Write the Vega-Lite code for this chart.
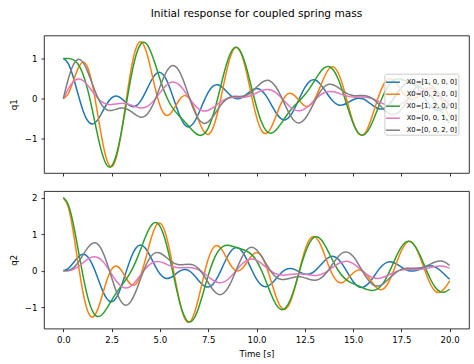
{
  "$schema": "https://vega.github.io/schema/vega-lite/v6.json",
  "background": "white",
  "padding": {"left": 8, "top": 8.5, "right": 7, "bottom": 5},
  "title": {"text": "Initial response for coupled spring mass", "fontSize": 10.6, "fontWeight": "normal", "font": "DejaVu Sans", "color": "#000", "anchor": "middle", "frame": "group", "offset": 15.3},
  "config": {
    "font": "DejaVu Sans",
    "view": {"stroke": "#000", "strokeWidth": 0.8},
    "axis": {"grid": false, "domain": false, "tickColor": "#000", "tickSize": 3, "tickWidth": 0.8, "labelColor": "#000", "labelFontSize": 8.6, "labelFont": "DejaVu Sans", "titleFont": "DejaVu Sans", "titleFontSize": 8.6, "titleFontWeight": "normal", "titleColor": "#000", "labelPadding": 4},
    "concat": {"spacing": 12.6},
    "line": {"strokeWidth": 1.5, "interpolate": "natural"}
  },
  "datasets": {
    "resp": [
{"t":0,"s":"X0=[1, 0, 0, 0]","q1":1,"q2":0},
{"t":0.25,"s":"X0=[1, 0, 0, 0]","q1":0.879,"q2":0.059},
{"t":0.5,"s":"X0=[1, 0, 0, 0]","q1":0.557,"q2":0.207},
{"t":0.75,"s":"X0=[1, 0, 0, 0]","q1":0.133,"q2":0.367},
{"t":1,"s":"X0=[1, 0, 0, 0]","q1":-0.269,"q2":0.451},
{"t":1.25,"s":"X0=[1, 0, 0, 0]","q1":-0.543,"q2":0.392},
{"t":1.5,"s":"X0=[1, 0, 0, 0]","q1":-0.633,"q2":0.176},
{"t":1.75,"s":"X0=[1, 0, 0, 0]","q1":-0.548,"q2":-0.151},
{"t":2,"s":"X0=[1, 0, 0, 0]","q1":-0.351,"q2":-0.5},
{"t":2.25,"s":"X0=[1, 0, 0, 0]","q1":-0.134,"q2":-0.761},
{"t":2.5,"s":"X0=[1, 0, 0, 0]","q1":0.02,"q2":-0.848},
{"t":2.75,"s":"X0=[1, 0, 0, 0]","q1":0.065,"q2":-0.727},
{"t":3,"s":"X0=[1, 0, 0, 0]","q1":0.007,"q2":-0.426},
{"t":3.25,"s":"X0=[1, 0, 0, 0]","q1":-0.101,"q2":-0.029},
{"t":3.5,"s":"X0=[1, 0, 0, 0]","q1":-0.187,"q2":0.353},
{"t":3.75,"s":"X0=[1, 0, 0, 0]","q1":-0.183,"q2":0.618},
{"t":4,"s":"X0=[1, 0, 0, 0]","q1":-0.062,"q2":0.707},
{"t":4.25,"s":"X0=[1, 0, 0, 0]","q1":0.154,"q2":0.616},
{"t":4.5,"s":"X0=[1, 0, 0, 0]","q1":0.401,"q2":0.397},
{"t":4.75,"s":"X0=[1, 0, 0, 0]","q1":0.592,"q2":0.136},
{"t":5,"s":"X0=[1, 0, 0, 0]","q1":0.653,"q2":-0.081},
{"t":5.25,"s":"X0=[1, 0, 0, 0]","q1":0.545,"q2":-0.197},
{"t":5.5,"s":"X0=[1, 0, 0, 0]","q1":0.285,"q2":-0.197},
{"t":5.75,"s":"X0=[1, 0, 0, 0]","q1":-0.06,"q2":-0.117},
{"t":6,"s":"X0=[1, 0, 0, 0]","q1":-0.396,"q2":-0.017},
{"t":6.25,"s":"X0=[1, 0, 0, 0]","q1":-0.63,"q2":0.037},
{"t":6.5,"s":"X0=[1, 0, 0, 0]","q1":-0.703,"q2":0.007},
{"t":6.75,"s":"X0=[1, 0, 0, 0]","q1":-0.604,"q2":-0.108},
{"t":7,"s":"X0=[1, 0, 0, 0]","q1":-0.375,"q2":-0.265},
{"t":7.25,"s":"X0=[1, 0, 0, 0]","q1":-0.093,"q2":-0.399},
{"t":7.5,"s":"X0=[1, 0, 0, 0]","q1":0.158,"q2":-0.445},
{"t":7.75,"s":"X0=[1, 0, 0, 0]","q1":0.311,"q2":-0.364},
{"t":8,"s":"X0=[1, 0, 0, 0]","q1":0.343,"q2":-0.16},
{"t":8.25,"s":"X0=[1, 0, 0, 0]","q1":0.272,"q2":0.117},
{"t":8.5,"s":"X0=[1, 0, 0, 0]","q1":0.152,"q2":0.392},
{"t":8.75,"s":"X0=[1, 0, 0, 0]","q1":0.045,"q2":0.584},
{"t":9,"s":"X0=[1, 0, 0, 0]","q1":-0.002,"q2":0.636},
{"t":9.25,"s":"X0=[1, 0, 0, 0]","q1":0.028,"q2":0.533},
{"t":9.5,"s":"X0=[1, 0, 0, 0]","q1":0.114,"q2":0.308},
{"t":9.75,"s":"X0=[1, 0, 0, 0]","q1":0.207,"q2":0.028},
{"t":10,"s":"X0=[1, 0, 0, 0]","q1":0.251,"q2":-0.227},
{"t":10.25,"s":"X0=[1, 0, 0, 0]","q1":0.207,"q2":-0.392},
{"t":10.5,"s":"X0=[1, 0, 0, 0]","q1":0.067,"q2":-0.434},
{"t":10.75,"s":"X0=[1, 0, 0, 0]","q1":-0.136,"q2":-0.362},
{"t":11,"s":"X0=[1, 0, 0, 0]","q1":-0.345,"q2":-0.222},
{"t":11.25,"s":"X0=[1, 0, 0, 0]","q1":-0.491,"q2":-0.072},
{"t":11.5,"s":"X0=[1, 0, 0, 0]","q1":-0.525,"q2":0.033},
{"t":11.75,"s":"X0=[1, 0, 0, 0]","q1":-0.427,"q2":0.066},
{"t":12,"s":"X0=[1, 0, 0, 0]","q1":-0.221,"q2":0.031},
{"t":12.25,"s":"X0=[1, 0, 0, 0]","q1":0.036,"q2":-0.037},
{"t":12.5,"s":"X0=[1, 0, 0, 0]","q1":0.274,"q2":-0.089},
{"t":12.75,"s":"X0=[1, 0, 0, 0]","q1":0.43,"q2":-0.087},
{"t":13,"s":"X0=[1, 0, 0, 0]","q1":0.468,"q2":-0.013},
{"t":13.25,"s":"X0=[1, 0, 0, 0]","q1":0.391,"q2":0.118},
{"t":13.5,"s":"X0=[1, 0, 0, 0]","q1":0.236,"q2":0.264},
{"t":13.75,"s":"X0=[1, 0, 0, 0]","q1":0.059,"q2":0.37},
{"t":14,"s":"X0=[1, 0, 0, 0]","q1":-0.084,"q2":0.392},
{"t":14.25,"s":"X0=[1, 0, 0, 0]","q1":-0.157,"q2":0.309},
{"t":14.5,"s":"X0=[1, 0, 0, 0]","q1":-0.153,"q2":0.135},
{"t":14.75,"s":"X0=[1, 0, 0, 0]","q1":-0.097,"q2":-0.085},
{"t":15,"s":"X0=[1, 0, 0, 0]","q1":-0.029,"q2":-0.291},
{"t":15.25,"s":"X0=[1, 0, 0, 0]","q1":0.01,"q2":-0.425},
{"t":15.5,"s":"X0=[1, 0, 0, 0]","q1":-0.005,"q2":-0.453},
{"t":15.75,"s":"X0=[1, 0, 0, 0]","q1":-0.072,"q2":-0.371},
{"t":16,"s":"X0=[1, 0, 0, 0]","q1":-0.163,"q2":-0.211},
{"t":16.25,"s":"X0=[1, 0, 0, 0]","q1":-0.238,"q2":-0.023},
{"t":16.5,"s":"X0=[1, 0, 0, 0]","q1":-0.257,"q2":0.137},
{"t":16.75,"s":"X0=[1, 0, 0, 0]","q1":-0.197,"q2":0.23},
{"t":17,"s":"X0=[1, 0, 0, 0]","q1":-0.064,"q2":0.242},
{"t":17.25,"s":"X0=[1, 0, 0, 0]","q1":0.11,"q2":0.188},
{"t":17.5,"s":"X0=[1, 0, 0, 0]","q1":0.275,"q2":0.103},
{"t":17.75,"s":"X0=[1, 0, 0, 0]","q1":0.383,"q2":0.028},
{"t":18,"s":"X0=[1, 0, 0, 0]","q1":0.399,"q2":-0.007},
{"t":18.25,"s":"X0=[1, 0, 0, 0]","q1":0.318,"q2":0.008},
{"t":18.5,"s":"X0=[1, 0, 0, 0]","q1":0.163,"q2":0.058},
{"t":18.75,"s":"X0=[1, 0, 0, 0]","q1":-0.02,"q2":0.113},
{"t":19,"s":"X0=[1, 0, 0, 0]","q1":-0.18,"q2":0.136},
{"t":19.25,"s":"X0=[1, 0, 0, 0]","q1":-0.277,"q2":0.105},
{"t":19.5,"s":"X0=[1, 0, 0, 0]","q1":-0.293,"q2":0.016},
{"t":19.75,"s":"X0=[1, 0, 0, 0]","q1":-0.235,"q2":-0.108},
{"t":20,"s":"X0=[1, 0, 0, 0]","q1":-0.136,"q2":-0.232},
{"t":0,"s":"X0=[0, 2, 0, 0]","q1":0,"q2":2},
{"t":0.25,"s":"X0=[0, 2, 0, 0]","q1":0.119,"q2":1.758},
{"t":0.5,"s":"X0=[0, 2, 0, 0]","q1":0.414,"q2":1.114},
{"t":0.75,"s":"X0=[0, 2, 0, 0]","q1":0.735,"q2":0.266},
{"t":1,"s":"X0=[0, 2, 0, 0]","q1":0.902,"q2":-0.537},
{"t":1.25,"s":"X0=[0, 2, 0, 0]","q1":0.785,"q2":-1.085},
{"t":1.5,"s":"X0=[0, 2, 0, 0]","q1":0.353,"q2":-1.265},
{"t":1.75,"s":"X0=[0, 2, 0, 0]","q1":-0.303,"q2":-1.095},
{"t":2,"s":"X0=[0, 2, 0, 0]","q1":-0.999,"q2":-0.702},
{"t":2.25,"s":"X0=[0, 2, 0, 0]","q1":-1.521,"q2":-0.267},
{"t":2.5,"s":"X0=[0, 2, 0, 0]","q1":-1.696,"q2":0.041},
{"t":2.75,"s":"X0=[0, 2, 0, 0]","q1":-1.453,"q2":0.13},
{"t":3,"s":"X0=[0, 2, 0, 0]","q1":-0.852,"q2":0.015},
{"t":3.25,"s":"X0=[0, 2, 0, 0]","q1":-0.059,"q2":-0.203},
{"t":3.5,"s":"X0=[0, 2, 0, 0]","q1":0.705,"q2":-0.373},
{"t":3.75,"s":"X0=[0, 2, 0, 0]","q1":1.236,"q2":-0.366},
{"t":4,"s":"X0=[0, 2, 0, 0]","q1":1.414,"q2":-0.124},
{"t":4.25,"s":"X0=[0, 2, 0, 0]","q1":1.232,"q2":0.308},
{"t":4.5,"s":"X0=[0, 2, 0, 0]","q1":0.795,"q2":0.802},
{"t":4.75,"s":"X0=[0, 2, 0, 0]","q1":0.272,"q2":1.185},
{"t":5,"s":"X0=[0, 2, 0, 0]","q1":-0.163,"q2":1.305},
{"t":5.25,"s":"X0=[0, 2, 0, 0]","q1":-0.393,"q2":1.089},
{"t":5.5,"s":"X0=[0, 2, 0, 0]","q1":-0.395,"q2":0.571},
{"t":5.75,"s":"X0=[0, 2, 0, 0]","q1":-0.233,"q2":-0.12},
{"t":6,"s":"X0=[0, 2, 0, 0]","q1":-0.034,"q2":-0.791},
{"t":6.25,"s":"X0=[0, 2, 0, 0]","q1":0.075,"q2":-1.26},
{"t":6.5,"s":"X0=[0, 2, 0, 0]","q1":0.014,"q2":-1.406},
{"t":6.75,"s":"X0=[0, 2, 0, 0]","q1":-0.216,"q2":-1.208},
{"t":7,"s":"X0=[0, 2, 0, 0]","q1":-0.53,"q2":-0.75},
{"t":7.25,"s":"X0=[0, 2, 0, 0]","q1":-0.798,"q2":-0.185},
{"t":7.5,"s":"X0=[0, 2, 0, 0]","q1":-0.89,"q2":0.315},
{"t":7.75,"s":"X0=[0, 2, 0, 0]","q1":-0.728,"q2":0.622},
{"t":8,"s":"X0=[0, 2, 0, 0]","q1":-0.321,"q2":0.686},
{"t":8.25,"s":"X0=[0, 2, 0, 0]","q1":0.234,"q2":0.545},
{"t":8.5,"s":"X0=[0, 2, 0, 0]","q1":0.784,"q2":0.304},
{"t":8.75,"s":"X0=[0, 2, 0, 0]","q1":1.167,"q2":0.089},
{"t":9,"s":"X0=[0, 2, 0, 0]","q1":1.271,"q2":-0.004},
{"t":9.25,"s":"X0=[0, 2, 0, 0]","q1":1.066,"q2":0.057},
{"t":9.5,"s":"X0=[0, 2, 0, 0]","q1":0.616,"q2":0.228},
{"t":9.75,"s":"X0=[0, 2, 0, 0]","q1":0.056,"q2":0.414},
{"t":10,"s":"X0=[0, 2, 0, 0]","q1":-0.454,"q2":0.502},
{"t":10.25,"s":"X0=[0, 2, 0, 0]","q1":-0.784,"q2":0.413},
{"t":10.5,"s":"X0=[0, 2, 0, 0]","q1":-0.867,"q2":0.135},
{"t":10.75,"s":"X0=[0, 2, 0, 0]","q1":-0.725,"q2":-0.272},
{"t":11,"s":"X0=[0, 2, 0, 0]","q1":-0.443,"q2":-0.689},
{"t":11.25,"s":"X0=[0, 2, 0, 0]","q1":-0.144,"q2":-0.983},
{"t":11.5,"s":"X0=[0, 2, 0, 0]","q1":0.067,"q2":-1.049},
{"t":11.75,"s":"X0=[0, 2, 0, 0]","q1":0.131,"q2":-0.854},
{"t":12,"s":"X0=[0, 2, 0, 0]","q1":0.062,"q2":-0.443},
{"t":12.25,"s":"X0=[0, 2, 0, 0]","q1":-0.073,"q2":0.072},
{"t":12.5,"s":"X0=[0, 2, 0, 0]","q1":-0.179,"q2":0.549},
{"t":12.75,"s":"X0=[0, 2, 0, 0]","q1":-0.174,"q2":0.86},
{"t":13,"s":"X0=[0, 2, 0, 0]","q1":-0.025,"q2":0.936},
{"t":13.25,"s":"X0=[0, 2, 0, 0]","q1":0.236,"q2":0.783},
{"t":13.5,"s":"X0=[0, 2, 0, 0]","q1":0.527,"q2":0.472},
{"t":13.75,"s":"X0=[0, 2, 0, 0]","q1":0.74,"q2":0.118},
{"t":14,"s":"X0=[0, 2, 0, 0]","q1":0.784,"q2":-0.167},
{"t":14.25,"s":"X0=[0, 2, 0, 0]","q1":0.618,"q2":-0.313},
{"t":14.5,"s":"X0=[0, 2, 0, 0]","q1":0.271,"q2":-0.307},
{"t":14.75,"s":"X0=[0, 2, 0, 0]","q1":-0.17,"q2":-0.195},
{"t":15,"s":"X0=[0, 2, 0, 0]","q1":-0.581,"q2":-0.059},
{"t":15.25,"s":"X0=[0, 2, 0, 0]","q1":-0.85,"q2":0.019},
{"t":15.5,"s":"X0=[0, 2, 0, 0]","q1":-0.905,"q2":-0.01},
{"t":15.75,"s":"X0=[0, 2, 0, 0]","q1":-0.743,"q2":-0.143},
{"t":16,"s":"X0=[0, 2, 0, 0]","q1":-0.422,"q2":-0.327},
{"t":16.25,"s":"X0=[0, 2, 0, 0]","q1":-0.047,"q2":-0.477},
{"t":16.5,"s":"X0=[0, 2, 0, 0]","q1":0.274,"q2":-0.514},
{"t":16.75,"s":"X0=[0, 2, 0, 0]","q1":0.46,"q2":-0.395},
{"t":17,"s":"X0=[0, 2, 0, 0]","q1":0.484,"q2":-0.128},
{"t":17.25,"s":"X0=[0, 2, 0, 0]","q1":0.376,"q2":0.219},
{"t":17.5,"s":"X0=[0, 2, 0, 0]","q1":0.206,"q2":0.55},
{"t":17.75,"s":"X0=[0, 2, 0, 0]","q1":0.056,"q2":0.765},
{"t":18,"s":"X0=[0, 2, 0, 0]","q1":-0.014,"q2":0.797},
{"t":18.25,"s":"X0=[0, 2, 0, 0]","q1":0.016,"q2":0.635},
{"t":18.5,"s":"X0=[0, 2, 0, 0]","q1":0.117,"q2":0.326},
{"t":18.75,"s":"X0=[0, 2, 0, 0]","q1":0.225,"q2":-0.04},
{"t":19,"s":"X0=[0, 2, 0, 0]","q1":0.272,"q2":-0.36},
{"t":19.25,"s":"X0=[0, 2, 0, 0]","q1":0.21,"q2":-0.554},
{"t":19.5,"s":"X0=[0, 2, 0, 0]","q1":0.033,"q2":-0.585},
{"t":19.75,"s":"X0=[0, 2, 0, 0]","q1":-0.217,"q2":-0.471},
{"t":20,"s":"X0=[0, 2, 0, 0]","q1":-0.464,"q2":-0.272},
{"t":0,"s":"X0=[1, 2, 0, 0]","q1":1,"q2":2},
{"t":0.25,"s":"X0=[1, 2, 0, 0]","q1":0.998,"q2":1.818},
{"t":0.5,"s":"X0=[1, 2, 0, 0]","q1":0.971,"q2":1.321},
{"t":0.75,"s":"X0=[1, 2, 0, 0]","q1":0.868,"q2":0.634},
{"t":1,"s":"X0=[1, 2, 0, 0]","q1":0.633,"q2":-0.086},
{"t":1.25,"s":"X0=[1, 2, 0, 0]","q1":0.242,"q2":-0.693},
{"t":1.5,"s":"X0=[1, 2, 0, 0]","q1":-0.28,"q2":-1.089},
{"t":1.75,"s":"X0=[1, 2, 0, 0]","q1":-0.85,"q2":-1.247},
{"t":2,"s":"X0=[1, 2, 0, 0]","q1":-1.35,"q2":-1.201},
{"t":2.25,"s":"X0=[1, 2, 0, 0]","q1":-1.655,"q2":-1.028},
{"t":2.5,"s":"X0=[1, 2, 0, 0]","q1":-1.675,"q2":-0.807},
{"t":2.75,"s":"X0=[1, 2, 0, 0]","q1":-1.388,"q2":-0.596},
{"t":3,"s":"X0=[1, 2, 0, 0]","q1":-0.845,"q2":-0.412},
{"t":3.25,"s":"X0=[1, 2, 0, 0]","q1":-0.16,"q2":-0.232},
{"t":3.5,"s":"X0=[1, 2, 0, 0]","q1":0.519,"q2":-0.021},
{"t":3.75,"s":"X0=[1, 2, 0, 0]","q1":1.053,"q2":0.252},
{"t":4,"s":"X0=[1, 2, 0, 0]","q1":1.351,"q2":0.582},
{"t":4.25,"s":"X0=[1, 2, 0, 0]","q1":1.386,"q2":0.924},
{"t":4.5,"s":"X0=[1, 2, 0, 0]","q1":1.196,"q2":1.199},
{"t":4.75,"s":"X0=[1, 2, 0, 0]","q1":0.865,"q2":1.321},
{"t":5,"s":"X0=[1, 2, 0, 0]","q1":0.49,"q2":1.224},
{"t":5.25,"s":"X0=[1, 2, 0, 0]","q1":0.152,"q2":0.893},
{"t":5.5,"s":"X0=[1, 2, 0, 0]","q1":-0.109,"q2":0.373},
{"t":5.75,"s":"X0=[1, 2, 0, 0]","q1":-0.293,"q2":-0.236},
{"t":6,"s":"X0=[1, 2, 0, 0]","q1":-0.43,"q2":-0.809},
{"t":6.25,"s":"X0=[1, 2, 0, 0]","q1":-0.556,"q2":-1.223},
{"t":6.5,"s":"X0=[1, 2, 0, 0]","q1":-0.689,"q2":-1.399},
{"t":6.75,"s":"X0=[1, 2, 0, 0]","q1":-0.82,"q2":-1.316},
{"t":7,"s":"X0=[1, 2, 0, 0]","q1":-0.905,"q2":-1.015},
{"t":7.25,"s":"X0=[1, 2, 0, 0]","q1":-0.891,"q2":-0.585},
{"t":7.5,"s":"X0=[1, 2, 0, 0]","q1":-0.732,"q2":-0.13},
{"t":7.75,"s":"X0=[1, 2, 0, 0]","q1":-0.416,"q2":0.258},
{"t":8,"s":"X0=[1, 2, 0, 0]","q1":0.022,"q2":0.525},
{"t":8.25,"s":"X0=[1, 2, 0, 0]","q1":0.507,"q2":0.662},
{"t":8.5,"s":"X0=[1, 2, 0, 0]","q1":0.936,"q2":0.696},
{"t":8.75,"s":"X0=[1, 2, 0, 0]","q1":1.212,"q2":0.673},
{"t":9,"s":"X0=[1, 2, 0, 0]","q1":1.269,"q2":0.632},
{"t":9.25,"s":"X0=[1, 2, 0, 0]","q1":1.094,"q2":0.59},
{"t":9.5,"s":"X0=[1, 2, 0, 0]","q1":0.73,"q2":0.536},
{"t":9.75,"s":"X0=[1, 2, 0, 0]","q1":0.263,"q2":0.442},
{"t":10,"s":"X0=[1, 2, 0, 0]","q1":-0.203,"q2":0.275},
{"t":10.25,"s":"X0=[1, 2, 0, 0]","q1":-0.577,"q2":0.021},
{"t":10.5,"s":"X0=[1, 2, 0, 0]","q1":-0.8,"q2":-0.299},
{"t":10.75,"s":"X0=[1, 2, 0, 0]","q1":-0.861,"q2":-0.634},
{"t":11,"s":"X0=[1, 2, 0, 0]","q1":-0.788,"q2":-0.911},
{"t":11.25,"s":"X0=[1, 2, 0, 0]","q1":-0.635,"q2":-1.054},
{"t":11.5,"s":"X0=[1, 2, 0, 0]","q1":-0.458,"q2":-1.016},
{"t":11.75,"s":"X0=[1, 2, 0, 0]","q1":-0.296,"q2":-0.789},
{"t":12,"s":"X0=[1, 2, 0, 0]","q1":-0.159,"q2":-0.412},
{"t":12.25,"s":"X0=[1, 2, 0, 0]","q1":-0.037,"q2":0.036},
{"t":12.5,"s":"X0=[1, 2, 0, 0]","q1":0.096,"q2":0.459},
{"t":12.75,"s":"X0=[1, 2, 0, 0]","q1":0.256,"q2":0.773},
{"t":13,"s":"X0=[1, 2, 0, 0]","q1":0.443,"q2":0.924},
{"t":13.25,"s":"X0=[1, 2, 0, 0]","q1":0.628,"q2":0.901},
{"t":13.5,"s":"X0=[1, 2, 0, 0]","q1":0.764,"q2":0.736},
{"t":13.75,"s":"X0=[1, 2, 0, 0]","q1":0.799,"q2":0.489},
{"t":14,"s":"X0=[1, 2, 0, 0]","q1":0.7,"q2":0.224},
{"t":14.25,"s":"X0=[1, 2, 0, 0]","q1":0.461,"q2":-0.004},
{"t":14.5,"s":"X0=[1, 2, 0, 0]","q1":0.117,"q2":-0.172},
{"t":14.75,"s":"X0=[1, 2, 0, 0]","q1":-0.267,"q2":-0.28},
{"t":15,"s":"X0=[1, 2, 0, 0]","q1":-0.611,"q2":-0.35},
{"t":15.25,"s":"X0=[1, 2, 0, 0]","q1":-0.841,"q2":-0.406},
{"t":15.5,"s":"X0=[1, 2, 0, 0]","q1":-0.91,"q2":-0.463},
{"t":15.75,"s":"X0=[1, 2, 0, 0]","q1":-0.814,"q2":-0.515},
{"t":16,"s":"X0=[1, 2, 0, 0]","q1":-0.586,"q2":-0.538},
{"t":16.25,"s":"X0=[1, 2, 0, 0]","q1":-0.285,"q2":-0.5},
{"t":16.5,"s":"X0=[1, 2, 0, 0]","q1":0.017,"q2":-0.377},
{"t":16.75,"s":"X0=[1, 2, 0, 0]","q1":0.263,"q2":-0.164},
{"t":17,"s":"X0=[1, 2, 0, 0]","q1":0.42,"q2":0.114},
{"t":17.25,"s":"X0=[1, 2, 0, 0]","q1":0.486,"q2":0.408},
{"t":17.5,"s":"X0=[1, 2, 0, 0]","q1":0.481,"q2":0.653},
{"t":17.75,"s":"X0=[1, 2, 0, 0]","q1":0.439,"q2":0.793},
{"t":18,"s":"X0=[1, 2, 0, 0]","q1":0.385,"q2":0.791},
{"t":18.25,"s":"X0=[1, 2, 0, 0]","q1":0.334,"q2":0.643},
{"t":18.5,"s":"X0=[1, 2, 0, 0]","q1":0.28,"q2":0.385},
{"t":18.75,"s":"X0=[1, 2, 0, 0]","q1":0.205,"q2":0.073},
{"t":19,"s":"X0=[1, 2, 0, 0]","q1":0.092,"q2":-0.224},
{"t":19.25,"s":"X0=[1, 2, 0, 0]","q1":-0.067,"q2":-0.449},
{"t":19.5,"s":"X0=[1, 2, 0, 0]","q1":-0.26,"q2":-0.569},
{"t":19.75,"s":"X0=[1, 2, 0, 0]","q1":-0.452,"q2":-0.579},
{"t":20,"s":"X0=[1, 2, 0, 0]","q1":-0.6,"q2":-0.504},
{"t":0,"s":"X0=[0, 0, 1, 0]","q1":0,"q2":0},
{"t":0.25,"s":"X0=[0, 0, 1, 0]","q1":0.237,"q2":0.005},
{"t":0.5,"s":"X0=[0, 0, 1, 0]","q1":0.411,"q2":0.037},
{"t":0.75,"s":"X0=[0, 0, 1, 0]","q1":0.487,"q2":0.108},
{"t":1,"s":"X0=[0, 0, 1, 0]","q1":0.456,"q2":0.208},
{"t":1.25,"s":"X0=[0, 0, 1, 0]","q1":0.341,"q2":0.311},
{"t":1.5,"s":"X0=[0, 0, 1, 0]","q1":0.184,"q2":0.376},
{"t":1.75,"s":"X0=[0, 0, 1, 0]","q1":0.031,"q2":0.371},
{"t":2,"s":"X0=[0, 0, 1, 0]","q1":-0.082,"q2":0.281},
{"t":2.25,"s":"X0=[0, 0, 1, 0]","q1":-0.14,"q2":0.115},
{"t":2.5,"s":"X0=[0, 0, 1, 0]","q1":-0.148,"q2":-0.09},
{"t":2.75,"s":"X0=[0, 0, 1, 0]","q1":-0.131,"q2":-0.287},
{"t":3,"s":"X0=[0, 0, 1, 0]","q1":-0.118,"q2":-0.425},
{"t":3.25,"s":"X0=[0, 0, 1, 0]","q1":-0.126,"q2":-0.471},
{"t":3.5,"s":"X0=[0, 0, 1, 0]","q1":-0.16,"q2":-0.418},
{"t":3.75,"s":"X0=[0, 0, 1, 0]","q1":-0.204,"q2":-0.285},
{"t":4,"s":"X0=[0, 0, 1, 0]","q1":-0.231,"q2":-0.11},
{"t":4.25,"s":"X0=[0, 0, 1, 0]","q1":-0.216,"q2":0.059},
{"t":4.5,"s":"X0=[0, 0, 1, 0]","q1":-0.141,"q2":0.185},
{"t":4.75,"s":"X0=[0, 0, 1, 0]","q1":-0.013,"q2":0.246},
{"t":5,"s":"X0=[0, 0, 1, 0]","q1":0.144,"q2":0.245},
{"t":5.25,"s":"X0=[0, 0, 1, 0]","q1":0.292,"q2":0.202},
{"t":5.5,"s":"X0=[0, 0, 1, 0]","q1":0.39,"q2":0.146},
{"t":5.75,"s":"X0=[0, 0, 1, 0]","q1":0.409,"q2":0.103},
{"t":6,"s":"X0=[0, 0, 1, 0]","q1":0.341,"q2":0.084},
{"t":6.25,"s":"X0=[0, 0, 1, 0]","q1":0.203,"q2":0.086},
{"t":6.5,"s":"X0=[0, 0, 1, 0]","q1":0.029,"q2":0.091},
{"t":6.75,"s":"X0=[0, 0, 1, 0]","q1":-0.136,"q2":0.078},
{"t":7,"s":"X0=[0, 0, 1, 0]","q1":-0.255,"q2":0.03},
{"t":7.25,"s":"X0=[0, 0, 1, 0]","q1":-0.307,"q2":-0.054},
{"t":7.5,"s":"X0=[0, 0, 1, 0]","q1":-0.289,"q2":-0.159},
{"t":7.75,"s":"X0=[0, 0, 1, 0]","q1":-0.222,"q2":-0.258},
{"t":8,"s":"X0=[0, 0, 1, 0]","q1":-0.133,"q2":-0.318},
{"t":8.25,"s":"X0=[0, 0, 1, 0]","q1":-0.052,"q2":-0.316},
{"t":8.5,"s":"X0=[0, 0, 1, 0]","q1":0.002,"q2":-0.245},
{"t":8.75,"s":"X0=[0, 0, 1, 0]","q1":0.025,"q2":-0.116},
{"t":9,"s":"X0=[0, 0, 1, 0]","q1":0.028,"q2":0.041},
{"t":9.25,"s":"X0=[0, 0, 1, 0]","q1":0.029,"q2":0.187},
{"t":9.5,"s":"X0=[0, 0, 1, 0]","q1":0.045,"q2":0.288},
{"t":9.75,"s":"X0=[0, 0, 1, 0]","q1":0.084,"q2":0.323},
{"t":10,"s":"X0=[0, 0, 1, 0]","q1":0.14,"q2":0.289},
{"t":10.25,"s":"X0=[0, 0, 1, 0]","q1":0.195,"q2":0.203},
{"t":10.5,"s":"X0=[0, 0, 1, 0]","q1":0.226,"q2":0.093},
{"t":10.75,"s":"X0=[0, 0, 1, 0]","q1":0.213,"q2":-0.009},
{"t":11,"s":"X0=[0, 0, 1, 0]","q1":0.147,"q2":-0.082},
{"t":11.25,"s":"X0=[0, 0, 1, 0]","q1":0.039,"q2":-0.115},
{"t":11.5,"s":"X0=[0, 0, 1, 0]","q1":-0.091,"q2":-0.116},
{"t":11.75,"s":"X0=[0, 0, 1, 0]","q1":-0.208,"q2":-0.099},
{"t":12,"s":"X0=[0, 0, 1, 0]","q1":-0.285,"q2":-0.084},
{"t":12.25,"s":"X0=[0, 0, 1, 0]","q1":-0.301,"q2":-0.082},
{"t":12.5,"s":"X0=[0, 0, 1, 0]","q1":-0.254,"q2":-0.097},
{"t":12.75,"s":"X0=[0, 0, 1, 0]","q1":-0.158,"q2":-0.117},
{"t":13,"s":"X0=[0, 0, 1, 0]","q1":-0.041,"q2":-0.128},
{"t":13.25,"s":"X0=[0, 0, 1, 0]","q1":0.068,"q2":-0.113},
{"t":13.5,"s":"X0=[0, 0, 1, 0]","q1":0.145,"q2":-0.063},
{"t":13.75,"s":"X0=[0, 0, 1, 0]","q1":0.177,"q2":0.019},
{"t":14,"s":"X0=[0, 0, 1, 0]","q1":0.169,"q2":0.114},
{"t":14.25,"s":"X0=[0, 0, 1, 0]","q1":0.133,"q2":0.2},
{"t":14.5,"s":"X0=[0, 0, 1, 0]","q1":0.09,"q2":0.251},
{"t":14.75,"s":"X0=[0, 0, 1, 0]","q1":0.056,"q2":0.252},
{"t":15,"s":"X0=[0, 0, 1, 0]","q1":0.04,"q2":0.198},
{"t":15.25,"s":"X0=[0, 0, 1, 0]","q1":0.037,"q2":0.103},
{"t":15.5,"s":"X0=[0, 0, 1, 0]","q1":0.038,"q2":-0.01},
{"t":15.75,"s":"X0=[0, 0, 1, 0]","q1":0.028,"q2":-0.114},
{"t":16,"s":"X0=[0, 0, 1, 0]","q1":-0.001,"q2":-0.184},
{"t":16.25,"s":"X0=[0, 0, 1, 0]","q1":-0.052,"q2":-0.208},
{"t":16.5,"s":"X0=[0, 0, 1, 0]","q1":-0.113,"q2":-0.188},
{"t":16.75,"s":"X0=[0, 0, 1, 0]","q1":-0.168,"q2":-0.136},
{"t":17,"s":"X0=[0, 0, 1, 0]","q1":-0.197,"q2":-0.073},
{"t":17.25,"s":"X0=[0, 0, 1, 0]","q1":-0.187,"q2":-0.017},
{"t":17.5,"s":"X0=[0, 0, 1, 0]","q1":-0.134,"q2":0.019},
{"t":17.75,"s":"X0=[0, 0, 1, 0]","q1":-0.048,"q2":0.035},
{"t":18,"s":"X0=[0, 0, 1, 0]","q1":0.052,"q2":0.035},
{"t":18.25,"s":"X0=[0, 0, 1, 0]","q1":0.141,"q2":0.034},
{"t":18.5,"s":"X0=[0, 0, 1, 0]","q1":0.198,"q2":0.041},
{"t":18.75,"s":"X0=[0, 0, 1, 0]","q1":0.21,"q2":0.061},
{"t":19,"s":"X0=[0, 0, 1, 0]","q1":0.179,"q2":0.091},
{"t":19.25,"s":"X0=[0, 0, 1, 0]","q1":0.117,"q2":0.12},
{"t":19.5,"s":"X0=[0, 0, 1, 0]","q1":0.042,"q2":0.133},
{"t":19.75,"s":"X0=[0, 0, 1, 0]","q1":-0.025,"q2":0.119},
{"t":20,"s":"X0=[0, 0, 1, 0]","q1":-0.071,"q2":0.073},
{"t":0,"s":"X0=[0, 0, 2, 0]","q1":0,"q2":0},
{"t":0.25,"s":"X0=[0, 0, 2, 0]","q1":0.474,"q2":0.01},
{"t":0.5,"s":"X0=[0, 0, 2, 0]","q1":0.823,"q2":0.074},
{"t":0.75,"s":"X0=[0, 0, 2, 0]","q1":0.974,"q2":0.215},
{"t":1,"s":"X0=[0, 0, 2, 0]","q1":0.913,"q2":0.417},
{"t":1.25,"s":"X0=[0, 0, 2, 0]","q1":0.683,"q2":0.621},
{"t":1.5,"s":"X0=[0, 0, 2, 0]","q1":0.368,"q2":0.752},
{"t":1.75,"s":"X0=[0, 0, 2, 0]","q1":0.061,"q2":0.742},
{"t":2,"s":"X0=[0, 0, 2, 0]","q1":-0.165,"q2":0.561},
{"t":2.25,"s":"X0=[0, 0, 2, 0]","q1":-0.279,"q2":0.23},
{"t":2.5,"s":"X0=[0, 0, 2, 0]","q1":-0.296,"q2":-0.181},
{"t":2.75,"s":"X0=[0, 0, 2, 0]","q1":-0.263,"q2":-0.573},
{"t":3,"s":"X0=[0, 0, 2, 0]","q1":-0.235,"q2":-0.85},
{"t":3.25,"s":"X0=[0, 0, 2, 0]","q1":-0.252,"q2":-0.942},
{"t":3.5,"s":"X0=[0, 0, 2, 0]","q1":-0.32,"q2":-0.836},
{"t":3.75,"s":"X0=[0, 0, 2, 0]","q1":-0.407,"q2":-0.569},
{"t":4,"s":"X0=[0, 0, 2, 0]","q1":-0.462,"q2":-0.22},
{"t":4.25,"s":"X0=[0, 0, 2, 0]","q1":-0.431,"q2":0.119},
{"t":4.5,"s":"X0=[0, 0, 2, 0]","q1":-0.283,"q2":0.369},
{"t":4.75,"s":"X0=[0, 0, 2, 0]","q1":-0.026,"q2":0.492},
{"t":5,"s":"X0=[0, 0, 2, 0]","q1":0.288,"q2":0.489},
{"t":5.25,"s":"X0=[0, 0, 2, 0]","q1":0.584,"q2":0.404},
{"t":5.5,"s":"X0=[0, 0, 2, 0]","q1":0.779,"q2":0.292},
{"t":5.75,"s":"X0=[0, 0, 2, 0]","q1":0.817,"q2":0.205},
{"t":6,"s":"X0=[0, 0, 2, 0]","q1":0.682,"q2":0.168},
{"t":6.25,"s":"X0=[0, 0, 2, 0]","q1":0.405,"q2":0.172},
{"t":6.5,"s":"X0=[0, 0, 2, 0]","q1":0.059,"q2":0.182},
{"t":6.75,"s":"X0=[0, 0, 2, 0]","q1":-0.272,"q2":0.156},
{"t":7,"s":"X0=[0, 0, 2, 0]","q1":-0.51,"q2":0.06},
{"t":7.25,"s":"X0=[0, 0, 2, 0]","q1":-0.613,"q2":-0.108},
{"t":7.5,"s":"X0=[0, 0, 2, 0]","q1":-0.579,"q2":-0.319},
{"t":7.75,"s":"X0=[0, 0, 2, 0]","q1":-0.444,"q2":-0.516},
{"t":8,"s":"X0=[0, 0, 2, 0]","q1":-0.267,"q2":-0.637},
{"t":8.25,"s":"X0=[0, 0, 2, 0]","q1":-0.105,"q2":-0.633},
{"t":8.5,"s":"X0=[0, 0, 2, 0]","q1":0.003,"q2":-0.489},
{"t":8.75,"s":"X0=[0, 0, 2, 0]","q1":0.05,"q2":-0.231},
{"t":9,"s":"X0=[0, 0, 2, 0]","q1":0.056,"q2":0.082},
{"t":9.25,"s":"X0=[0, 0, 2, 0]","q1":0.058,"q2":0.374},
{"t":9.5,"s":"X0=[0, 0, 2, 0]","q1":0.091,"q2":0.576},
{"t":9.75,"s":"X0=[0, 0, 2, 0]","q1":0.169,"q2":0.646},
{"t":10,"s":"X0=[0, 0, 2, 0]","q1":0.281,"q2":0.578},
{"t":10.25,"s":"X0=[0, 0, 2, 0]","q1":0.391,"q2":0.406},
{"t":10.5,"s":"X0=[0, 0, 2, 0]","q1":0.452,"q2":0.187},
{"t":10.75,"s":"X0=[0, 0, 2, 0]","q1":0.425,"q2":-0.018},
{"t":11,"s":"X0=[0, 0, 2, 0]","q1":0.295,"q2":-0.164},
{"t":11.25,"s":"X0=[0, 0, 2, 0]","q1":0.077,"q2":-0.231},
{"t":11.5,"s":"X0=[0, 0, 2, 0]","q1":-0.181,"q2":-0.232},
{"t":11.75,"s":"X0=[0, 0, 2, 0]","q1":-0.417,"q2":-0.199},
{"t":12,"s":"X0=[0, 0, 2, 0]","q1":-0.57,"q2":-0.168},
{"t":12.25,"s":"X0=[0, 0, 2, 0]","q1":-0.602,"q2":-0.165},
{"t":12.5,"s":"X0=[0, 0, 2, 0]","q1":-0.508,"q2":-0.193},
{"t":12.75,"s":"X0=[0, 0, 2, 0]","q1":-0.317,"q2":-0.235},
{"t":13,"s":"X0=[0, 0, 2, 0]","q1":-0.082,"q2":-0.256},
{"t":13.25,"s":"X0=[0, 0, 2, 0]","q1":0.136,"q2":-0.226},
{"t":13.5,"s":"X0=[0, 0, 2, 0]","q1":0.29,"q2":-0.125},
{"t":13.75,"s":"X0=[0, 0, 2, 0]","q1":0.355,"q2":0.037},
{"t":14,"s":"X0=[0, 0, 2, 0]","q1":0.338,"q2":0.229},
{"t":14.25,"s":"X0=[0, 0, 2, 0]","q1":0.267,"q2":0.4},
{"t":14.5,"s":"X0=[0, 0, 2, 0]","q1":0.181,"q2":0.503},
{"t":14.75,"s":"X0=[0, 0, 2, 0]","q1":0.113,"q2":0.503},
{"t":15,"s":"X0=[0, 0, 2, 0]","q1":0.079,"q2":0.396},
{"t":15.25,"s":"X0=[0, 0, 2, 0]","q1":0.074,"q2":0.206},
{"t":15.5,"s":"X0=[0, 0, 2, 0]","q1":0.076,"q2":-0.021},
{"t":15.75,"s":"X0=[0, 0, 2, 0]","q1":0.057,"q2":-0.228},
{"t":16,"s":"X0=[0, 0, 2, 0]","q1":-0.003,"q2":-0.368},
{"t":16.25,"s":"X0=[0, 0, 2, 0]","q1":-0.103,"q2":-0.417},
{"t":16.5,"s":"X0=[0, 0, 2, 0]","q1":-0.226,"q2":-0.376},
{"t":16.75,"s":"X0=[0, 0, 2, 0]","q1":-0.336,"q2":-0.273},
{"t":17,"s":"X0=[0, 0, 2, 0]","q1":-0.395,"q2":-0.146},
{"t":17.25,"s":"X0=[0, 0, 2, 0]","q1":-0.374,"q2":-0.034},
{"t":17.5,"s":"X0=[0, 0, 2, 0]","q1":-0.268,"q2":0.039},
{"t":17.75,"s":"X0=[0, 0, 2, 0]","q1":-0.096,"q2":0.069},
{"t":18,"s":"X0=[0, 0, 2, 0]","q1":0.103,"q2":0.071},
{"t":18.25,"s":"X0=[0, 0, 2, 0]","q1":0.281,"q2":0.067},
{"t":18.5,"s":"X0=[0, 0, 2, 0]","q1":0.395,"q2":0.081},
{"t":18.75,"s":"X0=[0, 0, 2, 0]","q1":0.421,"q2":0.122},
{"t":19,"s":"X0=[0, 0, 2, 0]","q1":0.359,"q2":0.182},
{"t":19.25,"s":"X0=[0, 0, 2, 0]","q1":0.234,"q2":0.24},
{"t":19.5,"s":"X0=[0, 0, 2, 0]","q1":0.084,"q2":0.266},
{"t":19.75,"s":"X0=[0, 0, 2, 0]","q1":-0.051,"q2":0.237},
{"t":20,"s":"X0=[0, 0, 2, 0]","q1":-0.142,"q2":0.146}
    ]
  },
  "data": {"name": "resp"},
  "vconcat": [
    {
      "width": 425,
      "height": 137.5,
      "mark": {"type": "line"},
      "encoding": {
        "x": {"field": "t", "type": "quantitative", "scale": {"domain": [-1, 21], "nice": false, "zero": false}, "axis": {"values": [0, 2.5, 5, 7.5, 10, 12.5, 15, 17.5, 20], "labels": false, "title": null}},
        "y": {"field": "q1", "type": "quantitative", "scale": {"domain": [-1.85, 1.57], "nice": false, "zero": false}, "axis": {"values": [-1, 0, 1], "format": "d", "title": "q1", "minExtent": 17, "maxExtent": 17, "titlePadding": 9}},
        "color": {
          "field": "s", "type": "nominal",
          "scale": {"domain": ["X0=[1, 0, 0, 0]", "X0=[0, 2, 0, 0]", "X0=[1, 2, 0, 0]", "X0=[0, 0, 1, 0]", "X0=[0, 0, 2, 0]"], "range": ["#1f77b4", "#ff7f0e", "#2ca02c", "#e377c2", "#7f7f7f"]},
          "legend": {"orient": "none", "legendX": 340.4, "legendY": 38.2, "title": null, "symbolType": "stroke", "symbolSize": 196, "symbolStrokeWidth": 1.5, "labelFontSize": 6.8, "labelFont": "DejaVu Sans", "labelColor": "#000", "fillColor": "rgba(255,255,255,0.8)", "strokeColor": "#cccccc", "cornerRadius": 2, "padding": 0.5, "rowPadding": -4.9, "labelOffset": 5.8}
        }
      }
    },
    {
      "width": 425,
      "height": 137.5,
      "mark": {"type": "line"},
      "encoding": {
        "x": {"field": "t", "type": "quantitative", "scale": {"domain": [-1, 21], "nice": false, "zero": false}, "axis": {"values": [0, 2.5, 5, 7.5, 10, 12.5, 15, 17.5, 20], "format": ".1f", "title": "Time [s]", "titlePadding": 5.5}},
        "y": {"field": "q2", "type": "quantitative", "scale": {"domain": [-1.58, 2.18], "nice": false, "zero": false}, "axis": {"values": [-1, 0, 1, 2], "format": "d", "title": "q2", "minExtent": 17, "maxExtent": 17, "titlePadding": 9}},
        "color": {
          "field": "s", "type": "nominal",
          "scale": {"domain": ["X0=[1, 0, 0, 0]", "X0=[0, 2, 0, 0]", "X0=[1, 2, 0, 0]", "X0=[0, 0, 1, 0]", "X0=[0, 0, 2, 0]"], "range": ["#1f77b4", "#ff7f0e", "#2ca02c", "#e377c2", "#7f7f7f"]},
          "legend": null
        }
      }
    }
  ],
  "resolve": {"legend": {"color": "independent"}, "scale": {"color": "independent"}}
}
